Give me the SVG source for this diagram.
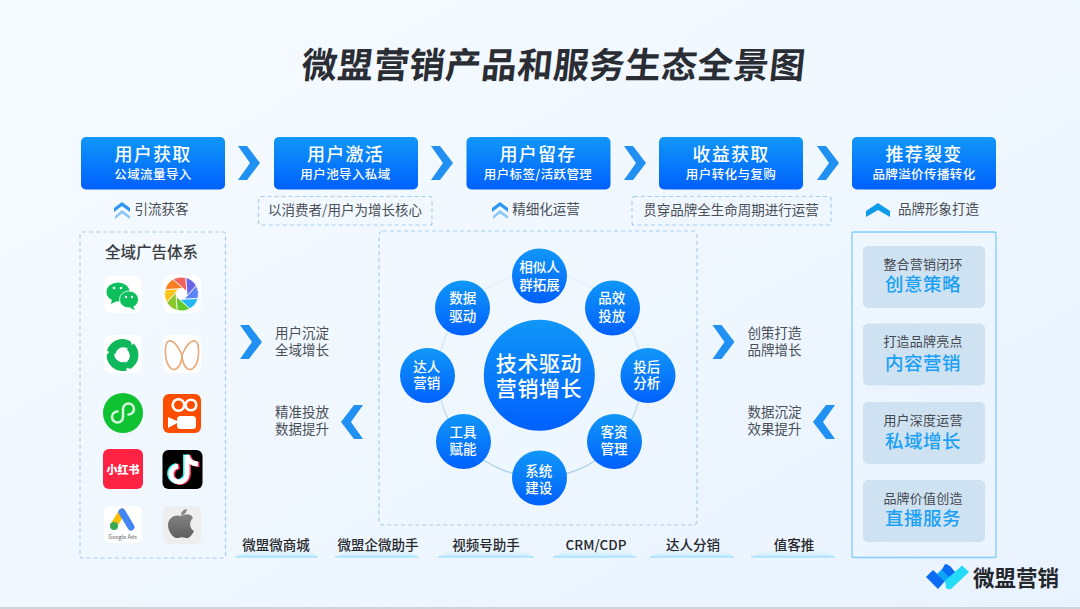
<svg xmlns="http://www.w3.org/2000/svg" width="1080" height="609" viewBox="0 0 1080 609">
<style>
text{font-family:"Noto Sans CJK SC","Noto Sans",sans-serif;text-anchor:middle}
.h1{font-size:18px;fill:#fff;font-weight:500;letter-spacing:1.2px}
.h2{font-size:12.5px;fill:#fff;font-weight:500;letter-spacing:.4px}
.s{font-size:13.5px;fill:#4a4f57}
.n{font-size:13.5px;fill:#fff;font-weight:500}
.c1{font-size:13px;fill:#44494f;letter-spacing:.2px}
.c2{font-size:18.5px;fill:#1aa0f5;font-weight:500;letter-spacing:.5px}
.b{font-size:13.5px;fill:#26282c;font-weight:500}
.hd{fill:url(#g)}
.ch{fill:#2090f2}
.dash{fill:none;stroke:#a9cdf2;stroke-width:1.2;stroke-dasharray:4 3}
.card{fill:#cfe2f2}
.tile{fill:#fff}
.tri{fill:url(#t)}
.ul{stroke:#8fdcff;stroke-width:1.2}
</style>
<defs>
<linearGradient id="bg" x1="0" y1="0" x2="1" y2="1"><stop offset="0" stop-color="#f6fbff"/><stop offset="1" stop-color="#e9f3ff"/></linearGradient>
<linearGradient id="g" x1="0" y1="0" x2="0" y2="1"><stop offset="0" stop-color="#1097f7"/><stop offset="1" stop-color="#0060fe"/></linearGradient>
<linearGradient id="t" x1="0" y1="0" x2="0" y2="1"><stop offset="0" stop-color="#e6f6ff" stop-opacity=".3"/><stop offset="1" stop-color="#bfeaff"/></linearGradient>
<linearGradient id="ring" x1="0" y1="0" x2="0" y2="1"><stop offset="0" stop-color="#e6f1fb"/><stop offset="1" stop-color="#a6cde9"/></linearGradient>
<linearGradient id="ap" x1="0" y1="0" x2="0" y2="1"><stop offset="0" stop-color="#8a8a8a"/><stop offset="1" stop-color="#5f5f5f"/></linearGradient>
<path id="chev" d="M0 0H9L22 17L9 34H0L12 17Z"/>
<path id="chevL" d="M22 0H13L0 17L13 34H22L10 17Z"/>
<path id="blade" d="M17 0A17 17 0 0 1 12 12L-.4 5.900Z" stroke="#fff" stroke-width=".7"/>
<path id="swoosh" d="M-15.500-4A16 16 0 0 1 8-13.800L11.500-4L3-7.500A8 8 0 0 0-7-1Z" fill="#10b85c"/>
</defs>
<rect width="1080" height="609" fill="url(#bg)"/>
<rect y="607" width="1080" height="2" fill="#cfd2d6"/>
<text id="title" x="552.500" y="78" transform="translate(8 0) skewX(-6)" style="font-size:35.500px;font-weight:700;fill:#2a2d33;letter-spacing:.5px">微盟营销产品和服务生态全景图</text>

<g id="step1"><rect class="hd" x="81" y="137" width="144" height="52.500" rx="5"/><text x="153"><tspan class="h1" x="153" y="160.500">用户获取</tspan><tspan class="h2" x="153" y="179">公域流量导入</tspan></text></g>
<g id="step2"><rect class="hd" x="274" y="137" width="144" height="52.500" rx="5"/><text x="345.500"><tspan class="h1" x="345.500" y="160.500">用户激活</tspan><tspan class="h2" x="345.500" y="179">用户池导入私域</tspan></text></g>
<g id="step3"><rect class="hd" x="466.500" y="137" width="144" height="52.500" rx="5"/><text x="538"><tspan class="h1" x="538" y="160.500">用户留存</tspan><tspan class="h2" x="538" y="179">用户标签/活跃管理</tspan></text></g>
<g id="step4"><rect class="hd" x="659" y="137" width="144" height="52.500" rx="5"/><text x="731"><tspan class="h1" x="731" y="160.500">收益获取</tspan><tspan class="h2" x="731" y="179">用户转化与复购</tspan></text></g>
<g id="step5"><rect class="hd" x="852" y="137" width="144" height="52.500" rx="5"/><text x="924"><tspan class="h1" x="924" y="160.500">推荐裂变</tspan><tspan class="h2" x="924" y="179">品牌溢价传播转化</tspan></text></g>

<g id="connectors">
<use href="#chev" class="ch" x="238" y="146"/><use href="#chev" class="ch" x="431" y="146"/><use href="#chev" class="ch" x="624" y="146"/><use href="#chev" class="ch" x="817" y="146"/>
<use href="#chev" class="ch" x="240" y="325"/><use href="#chevL" class="ch" x="341" y="405"/><use href="#chev" class="ch" x="712.500" y="325"/><use href="#chevL" class="ch" x="813" y="405"/>
</g>

<g id="tag1"><path d="M122 202L130 208V212L122 206L114 212V208Z" fill="#2b97f3"/><path d="M122 210L130 216V219L122 213.500L115 219V216Z" fill="#8cc6f7"/><text class="s" x="161.500" y="214">引流获客</text></g>
<g id="tag2"><rect class="dash" x="258.500" y="196.500" width="173.500" height="28.500" rx="2"/><text class="s" x="345" y="215">以消费者/用户为增长核心</text></g>
<g id="tag3"><path d="M500 202L508 208V212L500 206L492 212V208Z" fill="#2b97f3"/><path d="M500 210L508 216V219L500 213.500L493 219V216Z" fill="#8cc6f7"/><text class="s" x="546" y="214">精细化运营</text></g>
<g id="tag4"><rect class="dash" x="632" y="196.500" width="199" height="28.500" rx="2"/><text class="s" x="731" y="215">贯穿品牌全生命周期进行运营</text></g>
<g id="tag5"><path d="M878 203L890 211V217L878 210L866 217V211Z" fill="#0e9bea"/><text class="s" x="938.500" y="214">品牌形象打造</text></g>

<g id="ad-system">
<rect class="dash" x="80" y="232" width="145.500" height="326" rx="2"/>
<text x="151.500" y="258" style="font-size:15.500px;font-weight:500;fill:#3a3d42">全域广告体系</text>
<g id="ad-wechat"><rect class="tile" x="104" y="276" width="38" height="37" rx="7"/><ellipse cx="118" cy="292" rx="11.500" ry="9.500" fill="#0ec05c"/><path d="M112 299l-1 5 6-3z" fill="#0ec05c"/><ellipse cx="129" cy="299.500" rx="9.500" ry="8.500" fill="#0ec05c" stroke="#fff" stroke-width=".8"/><path d="M133 306l2 4-5-2z" fill="#0ec05c"/><circle cx="114" cy="288" r="1.300" fill="#fff"/><circle cx="121" cy="288" r="1.300" fill="#fff"/><circle cx="126" cy="297" r="1.200" fill="#fff"/><circle cx="132" cy="297" r="1.200" fill="#fff"/></g>
<g id="ad-lens"><rect class="tile" x="163" y="275" width="38" height="38" rx="7"/><g transform="translate(181.500 294)"><use href="#blade" fill="#5a84f5" transform="rotate(-30)"/><use href="#blade" fill="#25b6f5" transform="rotate(15)"/><use href="#blade" fill="#5fcb2a" transform="rotate(60)"/><use href="#blade" fill="#8fc62e" transform="rotate(105)"/><use href="#blade" fill="#fcc419" transform="rotate(150)"/><use href="#blade" fill="#fb7f22" transform="rotate(195)"/><use href="#blade" fill="#f2625c" transform="rotate(240)"/><use href="#blade" fill="#6a63e6" transform="rotate(285)"/></g></g>
<g id="ad-green"><rect class="tile" x="104" y="335" width="38" height="38" rx="7"/><g transform="translate(122.500 355)"><use href="#swoosh"/><use href="#swoosh" transform="rotate(120)"/><use href="#swoosh" transform="rotate(240)"/></g></g>
<g id="ad-butterfly"><rect class="tile" x="163" y="335" width="38" height="38" rx="7"/><path d="M182 355C178 346 173 340 169 341C165 342 165 352 166 358C167 366 172 371 176 369C180 367 182 360 182 355C186 346 191 340 195 341C199 342 199 352 198 358C197 366 192 371 188 369C184 367 182 360 182 355Z" fill="none" stroke="#e8a878" stroke-width="1.600"/></g>
<g id="ad-mini"><circle cx="123" cy="413" r="20" fill="#0fc232"/><path d="M117.500 411.500A5.500 5.500 0 1 0 123 417V409A5.500 5.500 0 1 1 128.500 414.500" fill="none" stroke="#d3f5da" stroke-width="2.600" stroke-linecap="round"/></g>
<g id="ad-kuaishou"><rect x="163" y="394" width="38" height="39" rx="6" fill="#ff4d00"/><circle cx="178.500" cy="405" r="5.800" fill="none" stroke="#fff" stroke-width="2.600"/><circle cx="191" cy="405" r="5.300" fill="none" stroke="#fff" stroke-width="2.600"/><rect x="177" y="416" width="19" height="13" rx="3.500" fill="#fff"/><path d="M179 422L168 417V428Z" fill="#fff"/></g>
<g id="ad-xhs"><rect x="103" y="449" width="40" height="40" rx="6" fill="#fe2342"/><text x="123" y="474" style="font-size:11px;font-weight:900;fill:#fff">小红书</text></g>
<g id="ad-douyin"><rect x="162.500" y="450" width="40" height="39" rx="6" fill="#000"/><path d="M187 455V474A8 8 0 1 1 178 466M187 455C188 460 192 464 198 464" fill="none" stroke="#25f4ee" stroke-width="5" transform="translate(-1.500 -.5)"/><path d="M187 455V474A8 8 0 1 1 178 466M187 455C188 460 192 464 198 464" fill="none" stroke="#fe2c55" stroke-width="5" transform="translate(1.500 .5)"/><path d="M187 455V474A8 8 0 1 1 178 466M187 455C188 460 192 464 198 464" fill="none" stroke="#fff" stroke-width="5"/></g>
<g id="ad-google"><rect class="tile" x="104" y="506" width="38" height="37" rx="6"/><path d="M122 512L114 525" stroke="#fbbc04" stroke-width="7" stroke-linecap="round"/><path d="M122 512L131 527" stroke="#4285f4" stroke-width="7" stroke-linecap="round"/><circle cx="114" cy="526" r="4" fill="#34a853"/><text x="122.500" y="539" style="font-size:5.500px;fill:#666">Google Ads</text></g>
<g id="ad-apple"><rect x="163" y="506" width="38" height="38" rx="6" fill="#eeeeee"/><path d="M181 516C184 514 191 513 193 518C189 521 189 528 194 531C192 535 189 539 186 538C183 537 181 537 178 538C173 539 168 531 168 525C168 517 176 514 181 516ZM181 515C181 512 184 509 187 509C187 512 184 515 181 515Z" fill="url(#ap)"/></g>
</g>

<g id="left-labels"><text class="s"><tspan x="302" y="337.500">用户沉淀</tspan><tspan x="302" y="354.500">全域增长</tspan></text><text class="s"><tspan x="302" y="417">精准投放</tspan><tspan x="302" y="434">数据提升</tspan></text></g>
<g id="right-labels"><text class="s"><tspan x="774.500" y="338">创策打造</tspan><tspan x="774.500" y="355">品牌增长</tspan></text><text class="s"><tspan x="774.500" y="417">数据沉淀</tspan><tspan x="774.500" y="434">效果提升</tspan></text></g>

<g id="tech-panel">
<rect class="dash" x="379" y="231" width="318" height="294" rx="4"/>
<circle cx="540" cy="375" r="102" fill="none" stroke="url(#ring)" stroke-width="1.200"/>
</g>
<g id="core"><circle cx="539.300" cy="375.300" r="55.500" fill="url(#g)"/><text style="font-size:21px;font-weight:500;fill:#fff;letter-spacing:.6px"><tspan x="539" y="371">技术驱动</tspan><tspan x="539" y="396">营销增长</tspan></text></g>
<g id="n1"><circle cx="539.500" cy="276" r="27.500" fill="url(#g)"/><text class="n"><tspan x="539.500" y="272">相似人</tspan><tspan x="539.500" y="290">群拓展</tspan></text></g>
<g id="n2"><circle cx="612.500" cy="308" r="27.500" fill="url(#g)"/><text class="n"><tspan x="611.700" y="303">品效</tspan><tspan x="611.700" y="321">投放</tspan></text></g>
<g id="n3"><circle cx="648" cy="375.500" r="27.500" fill="url(#g)"/><text class="n"><tspan x="646.700" y="371.500">投后</tspan><tspan x="646.700" y="388">分析</tspan></text></g>
<g id="n4"><circle cx="614.500" cy="441.500" r="27.500" fill="url(#g)"/><text class="n"><tspan x="614" y="436.500">客资</tspan><tspan x="614" y="454">管理</tspan></text></g>
<g id="n5"><circle cx="539.500" cy="478" r="27.500" fill="url(#g)"/><text class="n"><tspan x="538.700" y="475.500">系统</tspan><tspan x="538.700" y="493">建设</tspan></text></g>
<g id="n6"><circle cx="463.500" cy="441.500" r="27.500" fill="url(#g)"/><text class="n"><tspan x="463" y="436.500">工具</tspan><tspan x="463" y="454">赋能</tspan></text></g>
<g id="n7"><circle cx="427.500" cy="375.500" r="27.500" fill="url(#g)"/><text class="n"><tspan x="426.700" y="371.500">达人</tspan><tspan x="426.700" y="388">营销</tspan></text></g>
<g id="n8"><circle cx="462.500" cy="308" r="27.500" fill="url(#g)"/><text class="n"><tspan x="462.700" y="303">数据</tspan><tspan x="462.700" y="321">驱动</tspan></text></g>

<g id="products">
<g id="p1"><path class="tri" d="M235 557L250 550H307L318 557Z"/><line class="ul" x1="235" y1="557" x2="318" y2="557"/><text class="b" x="276" y="550">微盟微商城</text></g>
<g id="p2"><path class="tri" d="M335 557L350 550H407L418 557Z"/><line class="ul" x1="335" y1="557" x2="418" y2="557"/><text class="b" x="378" y="550">微盟企微助手</text></g>
<g id="p3"><path class="tri" d="M438 557L453 550H520L534 557Z"/><line class="ul" x1="438" y1="557" x2="534" y2="557"/><text class="b" x="486" y="550">视频号助手</text></g>
<g id="p4"><path class="tri" d="M553 557L568 550H625L636 557Z"/><line class="ul" x1="553" y1="557" x2="636" y2="557"/><text class="b" x="596" y="550">CRM/CDP</text></g>
<g id="p5"><path class="tri" d="M650 557L665 550H723L734 557Z"/><line class="ul" x1="650" y1="557" x2="734" y2="557"/><text class="b" x="693" y="550">达人分销</text></g>
<g id="p6"><path class="tri" d="M751 557L766 550H824L835 557Z"/><line class="ul" x1="751" y1="557" x2="835" y2="557"/><text class="b" x="794" y="550">值客推</text></g>
</g>

<g id="services">
<rect x="852" y="232" width="144" height="325.500" rx="2" fill="none" stroke="#80cbfa" stroke-width="1.300"/>
<g id="s1"><rect class="card" x="863" y="246" width="122" height="62" rx="5"/><text><tspan class="c1" x="923" y="269">整合营销闭环</tspan><tspan class="c2" x="923" y="291">创意策略</tspan></text></g>
<g id="s2"><rect class="card" x="863" y="323.500" width="122" height="62" rx="5"/><text><tspan class="c1" x="923" y="346">打造品牌亮点</tspan><tspan class="c2" x="923" y="369.500">内容营销</tspan></text></g>
<g id="s3"><rect class="card" x="863" y="402" width="122" height="62" rx="5"/><text><tspan class="c1" x="923" y="425">用户深度运营</tspan><tspan class="c2" x="923" y="447.500">私域增长</tspan></text></g>
<g id="s4"><rect class="card" x="863" y="480" width="122" height="62" rx="5"/><text><tspan class="c1" x="923" y="503">品牌价值创造</tspan><tspan class="c2" x="923" y="525">直播服务</tspan></text></g>
</g>

<g id="logo">
<path d="M926 577L933 570L945 581L938 589Z" fill="#0a6cf5"/>
<path d="M937 574L947 564L955 572L945 582Z" fill="#0ea5f5"/>
<path d="M945 581L962 565.500L969 572L951 589Q948 590 946 588Z" fill="#25dcf8"/>
<path d="M945 564L950 566L955 572L949 577L942 570Z" fill="#0a6cf5"/>
<text x="1016" y="586" style="font-size:21.500px;font-weight:700;fill:#24272c">微盟营销</text>
</g>
</svg>
